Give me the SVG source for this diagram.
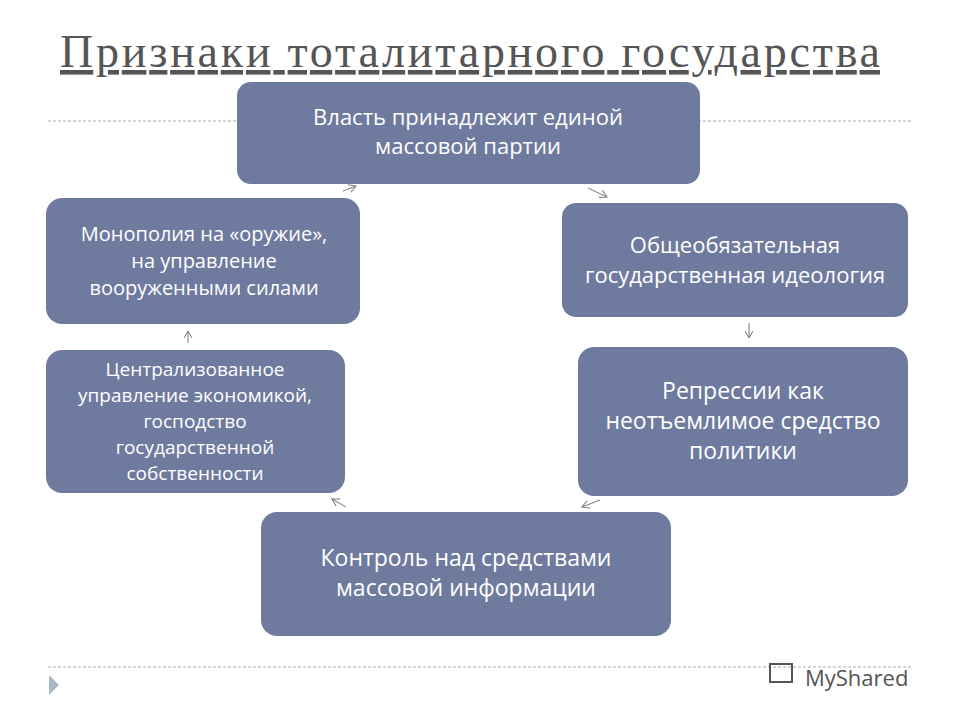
<svg xmlns="http://www.w3.org/2000/svg" width="960" height="720" viewBox="0 0 960 720">
<style>
.b{fill:#6f7a9f;}
.t{font-family:"Open Sans","Liberation Sans",sans-serif;fill:#fff;text-anchor:middle;}
.c{stroke:#777;stroke-width:1;fill:none;}
.d{stroke:#aaa;stroke-width:1;stroke-dasharray:3,2;}
</style>
<defs><marker id="a" markerWidth="10" markerHeight="10" refX="8" refY="5" orient="auto" markerUnits="userSpaceOnUse"><path d="M1,1 L8,5 L1,9" fill="none" stroke="#777"/></marker></defs>
<rect width="960" height="720" fill="#fff"/>
<text x="60" y="67" font-family="Liberation Serif,serif" font-size="46" fill="#555" textLength="820" text-decoration="underline">Признаки тоталитарного государства</text>
<line class="d" x1="48" y1="121" x2="912" y2="121"/>
<line class="d" x1="48" y1="667" x2="912" y2="667"/>
<path d="M49,675 L59,685 L49,695 Z" fill="#a9b8c6"/>
<g id="watermark"><rect x="770" y="664" width="22" height="18" fill="none" stroke="#555" stroke-width="2"/><text x="805" y="686" font-family="Open Sans,sans-serif" font-size="22" fill="#555">MyShared</text></g>
<g id="n1"><rect class="b" x="237" y="82" width="463" height="102" rx="14"/><text class="t" font-size="22" x="468" y="125">Власть принадлежит единой</text><text class="t" font-size="22" x="468" y="154">массовой партии</text></g>
<g id="n2"><rect class="b" x="562" y="203" width="346" height="114" rx="14"/><text class="t" font-size="22" x="735" y="253">Общеобязательная</text><text class="t" font-size="22" x="735" y="283">государственная идеология</text></g>
<g id="n3"><rect class="b" x="578" y="347" width="330" height="149" rx="16"/><text class="t" font-size="23" x="743" y="399">Репрессии как</text><text class="t" font-size="23" x="743" y="429">неотъемлимое средство</text><text class="t" font-size="23" x="743" y="459">политики</text></g>
<g id="n4"><rect class="b" x="261" y="512" width="410" height="124" rx="16"/><text class="t" font-size="23" x="466" y="566">Контроль над средствами</text><text class="t" font-size="23" x="466" y="596">массовой информации</text></g>
<g id="n5"><rect class="b" x="46" y="350" width="299" height="143" rx="16"/><text class="t" font-size="19" x="195" y="376">Централизованное</text><text class="t" font-size="19" x="195" y="402">управление экономикой,</text><text class="t" font-size="19" x="195" y="428">господство</text><text class="t" font-size="19" x="195" y="454">государственной</text><text class="t" font-size="19" x="195" y="480">собственности</text></g>
<g id="n6"><rect class="b" x="46" y="198" width="314" height="126" rx="16"/><text class="t" font-size="20" x="204" y="241">Монополия на «оружие»,</text><text class="t" font-size="20" x="204" y="268">на управление</text><text class="t" font-size="20" x="204" y="295">вооруженными силами</text></g>
<g id="connectors">
<line class="c" x1="343" y1="191" x2="356" y2="186" marker-end="url(#a)"/>
<line class="c" x1="588" y1="188" x2="607" y2="197" marker-end="url(#a)"/>
<line class="c" x1="749" y1="323" x2="749" y2="338" marker-end="url(#a)"/>
<line class="c" x1="600" y1="500" x2="582" y2="507" marker-end="url(#a)"/>
<line class="c" x1="346" y1="507" x2="332" y2="499" marker-end="url(#a)"/>
<line class="c" x1="188" y1="343" x2="188" y2="331" marker-end="url(#a)"/>
</g>
</svg>
